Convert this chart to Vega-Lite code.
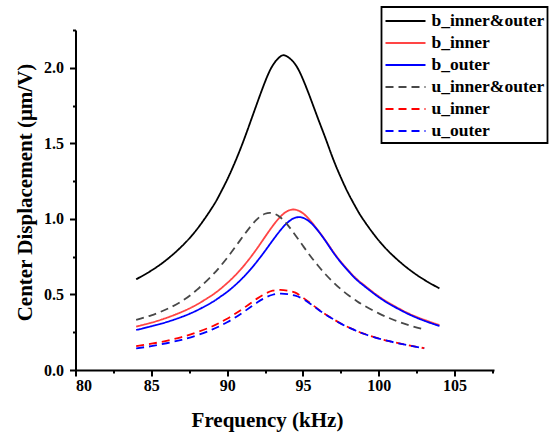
{
  "$schema": "https://vega.github.io/schema/vega-lite/v6.json",
  "autosize": {"type": "none"},
  "padding": {"left": 75.5, "top": 30, "right": 56, "bottom": 72},
  "width": 418.5,
  "height": 340,
  "background": "white",
  "config": {
    "view": {"stroke": null},
    "legend": {"strokeWidth": 1.8}
  },
  "data": {"values": [
    {"s":"b_inner&outer","f":84,"v":0.600},{"s":"b_inner&outer","f":85,"v":0.658},{"s":"b_inner&outer","f":86,"v":0.729},{"s":"b_inner&outer","f":87,"v":0.818},{"s":"b_inner&outer","f":88,"v":0.930},{"s":"b_inner&outer","f":89,"v":1.073},{"s":"b_inner&outer","f":89.5,"v":1.160},{"s":"b_inner&outer","f":90,"v":1.259},{"s":"b_inner&outer","f":90.5,"v":1.371},{"s":"b_inner&outer","f":91,"v":1.495},{"s":"b_inner&outer","f":91.5,"v":1.632},{"s":"b_inner&outer","f":92,"v":1.772},{"s":"b_inner&outer","f":92.5,"v":1.907},{"s":"b_inner&outer","f":93,"v":2.015},{"s":"b_inner&outer","f":93.5,"v":2.074},{"s":"b_inner&outer","f":93.75,"v":2.083},{"s":"b_inner&outer","f":94,"v":2.072},{"s":"b_inner&outer","f":94.5,"v":2.022},{"s":"b_inner&outer","f":95,"v":1.924},{"s":"b_inner&outer","f":95.5,"v":1.797},{"s":"b_inner&outer","f":96,"v":1.662},{"s":"b_inner&outer","f":96.5,"v":1.530},{"s":"b_inner&outer","f":97,"v":1.394},{"s":"b_inner&outer","f":97.5,"v":1.274},{"s":"b_inner&outer","f":98,"v":1.167},{"s":"b_inner&outer","f":98.5,"v":1.074},{"s":"b_inner&outer","f":99,"v":0.992},{"s":"b_inner&outer","f":100,"v":0.857},{"s":"b_inner&outer","f":101,"v":0.751},{"s":"b_inner&outer","f":102,"v":0.666},{"s":"b_inner&outer","f":103,"v":0.597},{"s":"b_inner&outer","f":104,"v":0.540},
    {"s":"b_inner","f":84,"v":0.287},{"s":"b_inner","f":85,"v":0.313},{"s":"b_inner","f":86,"v":0.345},{"s":"b_inner","f":87,"v":0.384},{"s":"b_inner","f":88,"v":0.433},{"s":"b_inner","f":89,"v":0.495},{"s":"b_inner","f":89.5,"v":0.532},{"s":"b_inner","f":90,"v":0.575},{"s":"b_inner","f":90.5,"v":0.623},{"s":"b_inner","f":91,"v":0.678},{"s":"b_inner","f":91.5,"v":0.740},{"s":"b_inner","f":92,"v":0.808},{"s":"b_inner","f":92.5,"v":0.881},{"s":"b_inner","f":93,"v":0.952},{"s":"b_inner","f":93.5,"v":1.013},{"s":"b_inner","f":94,"v":1.053},{"s":"b_inner","f":94.5,"v":1.061},{"s":"b_inner","f":95,"v":1.037},{"s":"b_inner","f":95.5,"v":0.987},{"s":"b_inner","f":96,"v":0.923},{"s":"b_inner","f":96.5,"v":0.855},{"s":"b_inner","f":97,"v":0.782},{"s":"b_inner","f":97.5,"v":0.716},{"s":"b_inner","f":98,"v":0.658},{"s":"b_inner","f":98.5,"v":0.606},{"s":"b_inner","f":99,"v":0.564},{"s":"b_inner","f":100,"v":0.487},{"s":"b_inner","f":101,"v":0.425},{"s":"b_inner","f":102,"v":0.373},{"s":"b_inner","f":103,"v":0.332},{"s":"b_inner","f":104,"v":0.297},
    {"s":"b_outer","f":84,"v":0.265},{"s":"b_outer","f":85,"v":0.289},{"s":"b_outer","f":86,"v":0.317},{"s":"b_outer","f":87,"v":0.351},{"s":"b_outer","f":88,"v":0.394},{"s":"b_outer","f":89,"v":0.448},{"s":"b_outer","f":89.5,"v":0.481},{"s":"b_outer","f":90,"v":0.517},{"s":"b_outer","f":90.5,"v":0.559},{"s":"b_outer","f":91,"v":0.607},{"s":"b_outer","f":91.5,"v":0.661},{"s":"b_outer","f":92,"v":0.722},{"s":"b_outer","f":92.5,"v":0.788},{"s":"b_outer","f":93,"v":0.857},{"s":"b_outer","f":93.5,"v":0.923},{"s":"b_outer","f":94,"v":0.977},{"s":"b_outer","f":94.5,"v":1.008},{"s":"b_outer","f":95,"v":1.007},{"s":"b_outer","f":95.5,"v":0.976},{"s":"b_outer","f":96,"v":0.921},{"s":"b_outer","f":96.5,"v":0.852},{"s":"b_outer","f":97,"v":0.778},{"s":"b_outer","f":97.5,"v":0.712},{"s":"b_outer","f":98,"v":0.654},{"s":"b_outer","f":98.5,"v":0.601},{"s":"b_outer","f":99,"v":0.559},{"s":"b_outer","f":100,"v":0.482},{"s":"b_outer","f":101,"v":0.420},{"s":"b_outer","f":102,"v":0.368},{"s":"b_outer","f":103,"v":0.326},{"s":"b_outer","f":104,"v":0.291},
    {"s":"u_inner&outer","f":84,"v":0.332},{"s":"u_inner&outer","f":85,"v":0.362},{"s":"u_inner&outer","f":86,"v":0.402},{"s":"u_inner&outer","f":87,"v":0.455},{"s":"u_inner&outer","f":88,"v":0.530},{"s":"u_inner&outer","f":89,"v":0.625},{"s":"u_inner&outer","f":89.5,"v":0.680},{"s":"u_inner&outer","f":90,"v":0.742},{"s":"u_inner&outer","f":90.5,"v":0.809},{"s":"u_inner&outer","f":91,"v":0.878},{"s":"u_inner&outer","f":91.5,"v":0.944},{"s":"u_inner&outer","f":92,"v":1.000},{"s":"u_inner&outer","f":92.5,"v":1.034},{"s":"u_inner&outer","f":93,"v":1.038},{"s":"u_inner&outer","f":93.5,"v":1.011},{"s":"u_inner&outer","f":94,"v":0.959},{"s":"u_inner&outer","f":94.5,"v":0.892},{"s":"u_inner&outer","f":95,"v":0.822},{"s":"u_inner&outer","f":95.5,"v":0.753},{"s":"u_inner&outer","f":96,"v":0.690},{"s":"u_inner&outer","f":96.5,"v":0.632},{"s":"u_inner&outer","f":97,"v":0.581},{"s":"u_inner&outer","f":97.5,"v":0.535},{"s":"u_inner&outer","f":98,"v":0.495},{"s":"u_inner&outer","f":98.5,"v":0.460},{"s":"u_inner&outer","f":99,"v":0.428},{"s":"u_inner&outer","f":100,"v":0.375},{"s":"u_inner&outer","f":101,"v":0.331},{"s":"u_inner&outer","f":102,"v":0.296},{"s":"u_inner&outer","f":103,"v":0.268},
    {"s":"u_inner","f":84,"v":0.158},{"s":"u_inner","f":85,"v":0.174},{"s":"u_inner","f":86,"v":0.193},{"s":"u_inner","f":87,"v":0.218},{"s":"u_inner","f":88,"v":0.249},{"s":"u_inner","f":89,"v":0.288},{"s":"u_inner","f":89.5,"v":0.312},{"s":"u_inner","f":90,"v":0.339},{"s":"u_inner","f":90.5,"v":0.370},{"s":"u_inner","f":91,"v":0.403},{"s":"u_inner","f":91.5,"v":0.439},{"s":"u_inner","f":92,"v":0.474},{"s":"u_inner","f":92.5,"v":0.504},{"s":"u_inner","f":93,"v":0.525},{"s":"u_inner","f":93.5,"v":0.530},{"s":"u_inner","f":94,"v":0.525},{"s":"u_inner","f":94.5,"v":0.512},{"s":"u_inner","f":95,"v":0.479},{"s":"u_inner","f":95.5,"v":0.441},{"s":"u_inner","f":96,"v":0.403},{"s":"u_inner","f":96.5,"v":0.368},{"s":"u_inner","f":97,"v":0.337},{"s":"u_inner","f":97.5,"v":0.308},{"s":"u_inner","f":98,"v":0.283},{"s":"u_inner","f":98.5,"v":0.261},{"s":"u_inner","f":99,"v":0.241},{"s":"u_inner","f":100,"v":0.209},{"s":"u_inner","f":101,"v":0.184},{"s":"u_inner","f":102,"v":0.163},{"s":"u_inner","f":103,"v":0.144},
    {"s":"u_outer","f":84,"v":0.143},{"s":"u_outer","f":85,"v":0.158},{"s":"u_outer","f":86,"v":0.177},{"s":"u_outer","f":87,"v":0.200},{"s":"u_outer","f":88,"v":0.229},{"s":"u_outer","f":89,"v":0.267},{"s":"u_outer","f":89.5,"v":0.290},{"s":"u_outer","f":90,"v":0.316},{"s":"u_outer","f":90.5,"v":0.345},{"s":"u_outer","f":91,"v":0.378},{"s":"u_outer","f":91.5,"v":0.413},{"s":"u_outer","f":92,"v":0.448},{"s":"u_outer","f":92.5,"v":0.478},{"s":"u_outer","f":93,"v":0.498},{"s":"u_outer","f":93.5,"v":0.505},{"s":"u_outer","f":94,"v":0.502},{"s":"u_outer","f":94.5,"v":0.492},{"s":"u_outer","f":95,"v":0.470},{"s":"u_outer","f":95.5,"v":0.437},{"s":"u_outer","f":96,"v":0.401},{"s":"u_outer","f":96.5,"v":0.367},{"s":"u_outer","f":97,"v":0.336},{"s":"u_outer","f":97.5,"v":0.307},{"s":"u_outer","f":98,"v":0.282},{"s":"u_outer","f":98.5,"v":0.260},{"s":"u_outer","f":99,"v":0.240},{"s":"u_outer","f":100,"v":0.208},{"s":"u_outer","f":101,"v":0.183},{"s":"u_outer","f":102,"v":0.162},{"s":"u_outer","f":103,"v":0.143}
  ]},
  "layer": [
    {
      "mark": {"type": "line", "strokeWidth": 1.8, "interpolate": "natural"},
      "encoding": {
        "x": {
          "field": "f", "type": "quantitative",
          "scale": {"domain": [80, 107.6], "nice": false, "zero": false},
          "axis": {
            "orient": "bottom",
            "title": "Frequency (kHz)",
            "values": [80, 85, 90, 95, 100, 105],
            "format": "d",
            "ticks": true, "tickSize": 6, "tickColor": "black", "tickWidth": 2,
            "grid": false,
            "domainColor": "black", "domainWidth": 2,
            "labelFont": "Liberation Serif", "labelFontWeight": "bold", "labelFontSize": 16, "labelColor": "black",
            "labelPadding": 1,
            "titleFont": "Liberation Serif", "titleFontWeight": "bold", "titleFontSize": 21, "titleColor": "black",
            "titleX": 191.5, "titleY": 50, "titleAlign": "center", "titleBaseline": "middle", "titleAnchor": null
          }
        },
        "y": {
          "field": "v", "type": "quantitative",
          "scale": {"domain": [0, 2.25], "nice": false, "zero": true},
          "axis": {
            "orient": "left",
            "title": "Center Displacement (μm/V)",
            "values": [0, 0.5, 1, 1.5, 2],
            "format": ".1f",
            "ticks": true, "tickSize": 6, "tickColor": "black", "tickWidth": 2,
            "grid": false,
            "domainColor": "black", "domainWidth": 2,
            "labelFont": "Liberation Serif", "labelFontWeight": "bold", "labelFontSize": 16, "labelColor": "black",
            "labelPadding": 6,
            "titleFont": "Liberation Serif", "titleFontWeight": "bold", "titleFontSize": 21, "titleColor": "black",
            "titleX": -50, "titleY": 162, "titleAngle": -90, "titleAlign": "center", "titleBaseline": "middle", "titleAnchor": null
          }
        },
        "color": {
          "field": "s", "type": "nominal",
          "scale": {
            "domain": ["b_inner&outer", "b_inner", "b_outer", "u_inner&outer", "u_inner", "u_outer"],
            "range": ["#000000", "#FF4545", "#0000FF", "#484848", "#FF0000", "#0000FF"]
          },
          "legend": {
            "title": null, "orient": "none", "legendX": 306, "legendY": -23,
            "strokeColor": "black", "padding": 3,
            "symbolType": "M-2,0H2", "symbolSize": 400, "symbolStrokeWidth": 2, "symbolOffset": 10,
            "labelFont": "Liberation Serif", "labelFontWeight": "bold", "labelFontSize": 17.5, "labelColor": "black",
            "labelOffset": 15, "rowPadding": 2
          }
        },
        "strokeDash": {
          "field": "s", "type": "nominal",
          "scale": {
            "domain": ["b_inner&outer", "b_inner", "b_outer", "u_inner&outer", "u_inner", "u_outer"],
            "range": [[1, 0], [1, 0], [1, 0], [8, 5], [8, 5], [8, 5]]
          },
          "legend": {
            "title": null, "orient": "none", "legendX": 306, "legendY": -23,
            "strokeColor": "black", "padding": 3,
            "symbolType": "M-2,0H2", "symbolSize": 400, "symbolStrokeWidth": 2, "symbolOffset": 10,
            "labelFont": "Liberation Serif", "labelFontWeight": "bold", "labelFontSize": 17.5, "labelColor": "black",
            "labelOffset": 15, "rowPadding": 2
          }
        },
        "order": {"field": "f", "type": "quantitative"}
      }
    },
    {
      "mark": {"type": "line", "opacity": 0},
      "encoding": {
        "x": {
          "field": "f", "type": "quantitative",
          "axis": {
            "orient": "bottom", "title": null, "labels": false, "domain": false, "grid": false,
            "values": [82.5, 87.5, 92.5, 97.5, 102.5, 107.5],
            "ticks": true, "tickSize": 3, "tickColor": "black", "tickWidth": 2
          }
        },
        "y": {
          "field": "v", "type": "quantitative",
          "axis": {
            "orient": "left", "title": null, "labels": false, "domain": false, "grid": false,
            "values": [0.25, 0.75, 1.25, 1.75, 2.25],
            "ticks": true, "tickSize": 3, "tickColor": "black", "tickWidth": 2
          }
        },
        "detail": {"field": "s", "type": "nominal"}
      }
    }
  ],
  "resolve": {"axis": {"x": "independent", "y": "independent"}}
}
